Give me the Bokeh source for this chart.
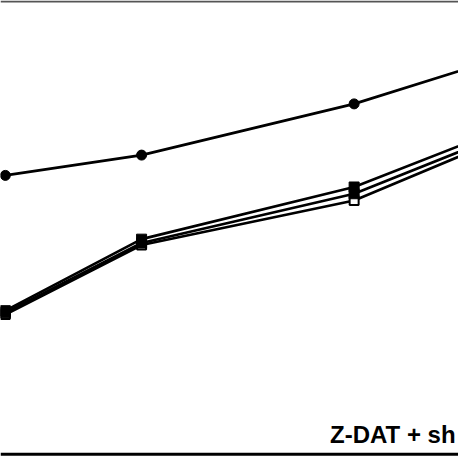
from bokeh.plotting import figure
from bokeh.models import Range1d, Label, Span
from bokeh.embed import file_html
from bokeh.resources import INLINE

# Data (x in arbitrary time units, y in arbitrary response units)
x_vals = [0, 10, 25.6, 41.2]
circle_series = [28.7, 30.8, 36.1, 43.0]
square_top = [14.7, 22.1, 27.5, 36.1]
square_mid = [14.5, 21.7, 26.8, 35.6]
square_open = [14.3, 21.5, 26.1, 35.3]
label_text = "Z-DAT + sh"

p = figure(width=458, height=458, output_backend="svg", toolbar_location=None,
           x_range=Range1d(-0.355, 33.26), y_range=Range1d(-0.6, 46.8),
           x_axis_location=None, y_axis_location=None, min_border=0)
p.grid.visible = False
p.outline_line_color = None
p.background_fill_color = "white"
p.border_fill_color = "white"

lw = 2.7
p.line(x_vals, circle_series, line_color="black", line_width=lw)
p.scatter(x_vals, circle_series, marker="circle", size=10, fill_color="black", line_color="black")

p.line(x_vals, square_top, line_color="black", line_width=lw)
p.line(x_vals, square_mid, line_color="black", line_width=lw)
p.line(x_vals, square_open, line_color="black", line_width=lw)
p.scatter(x_vals, square_open, marker="square", size=9, fill_color="white", line_color="black", line_width=2)
p.scatter(x_vals, square_mid, marker="square", size=10, fill_color="black", line_color="black")
p.scatter(x_vals, square_top, marker="square", size=10, fill_color="black", line_color="black")

p.add_layout(Span(location=-0.15, dimension="width", line_color="black", line_width=3))
p.add_layout(Span(location=46.7, dimension="width", line_color="#555555", line_width=2))

p.add_layout(Label(x=23.83, y=1.9, text=label_text, text_font="Liberation Sans",
                   text_font_style="bold", text_font_size="24px", text_color="black",
                   text_baseline="alphabetic", text_align="left"))

open("out.html", "w").write(file_html(p, INLINE))
